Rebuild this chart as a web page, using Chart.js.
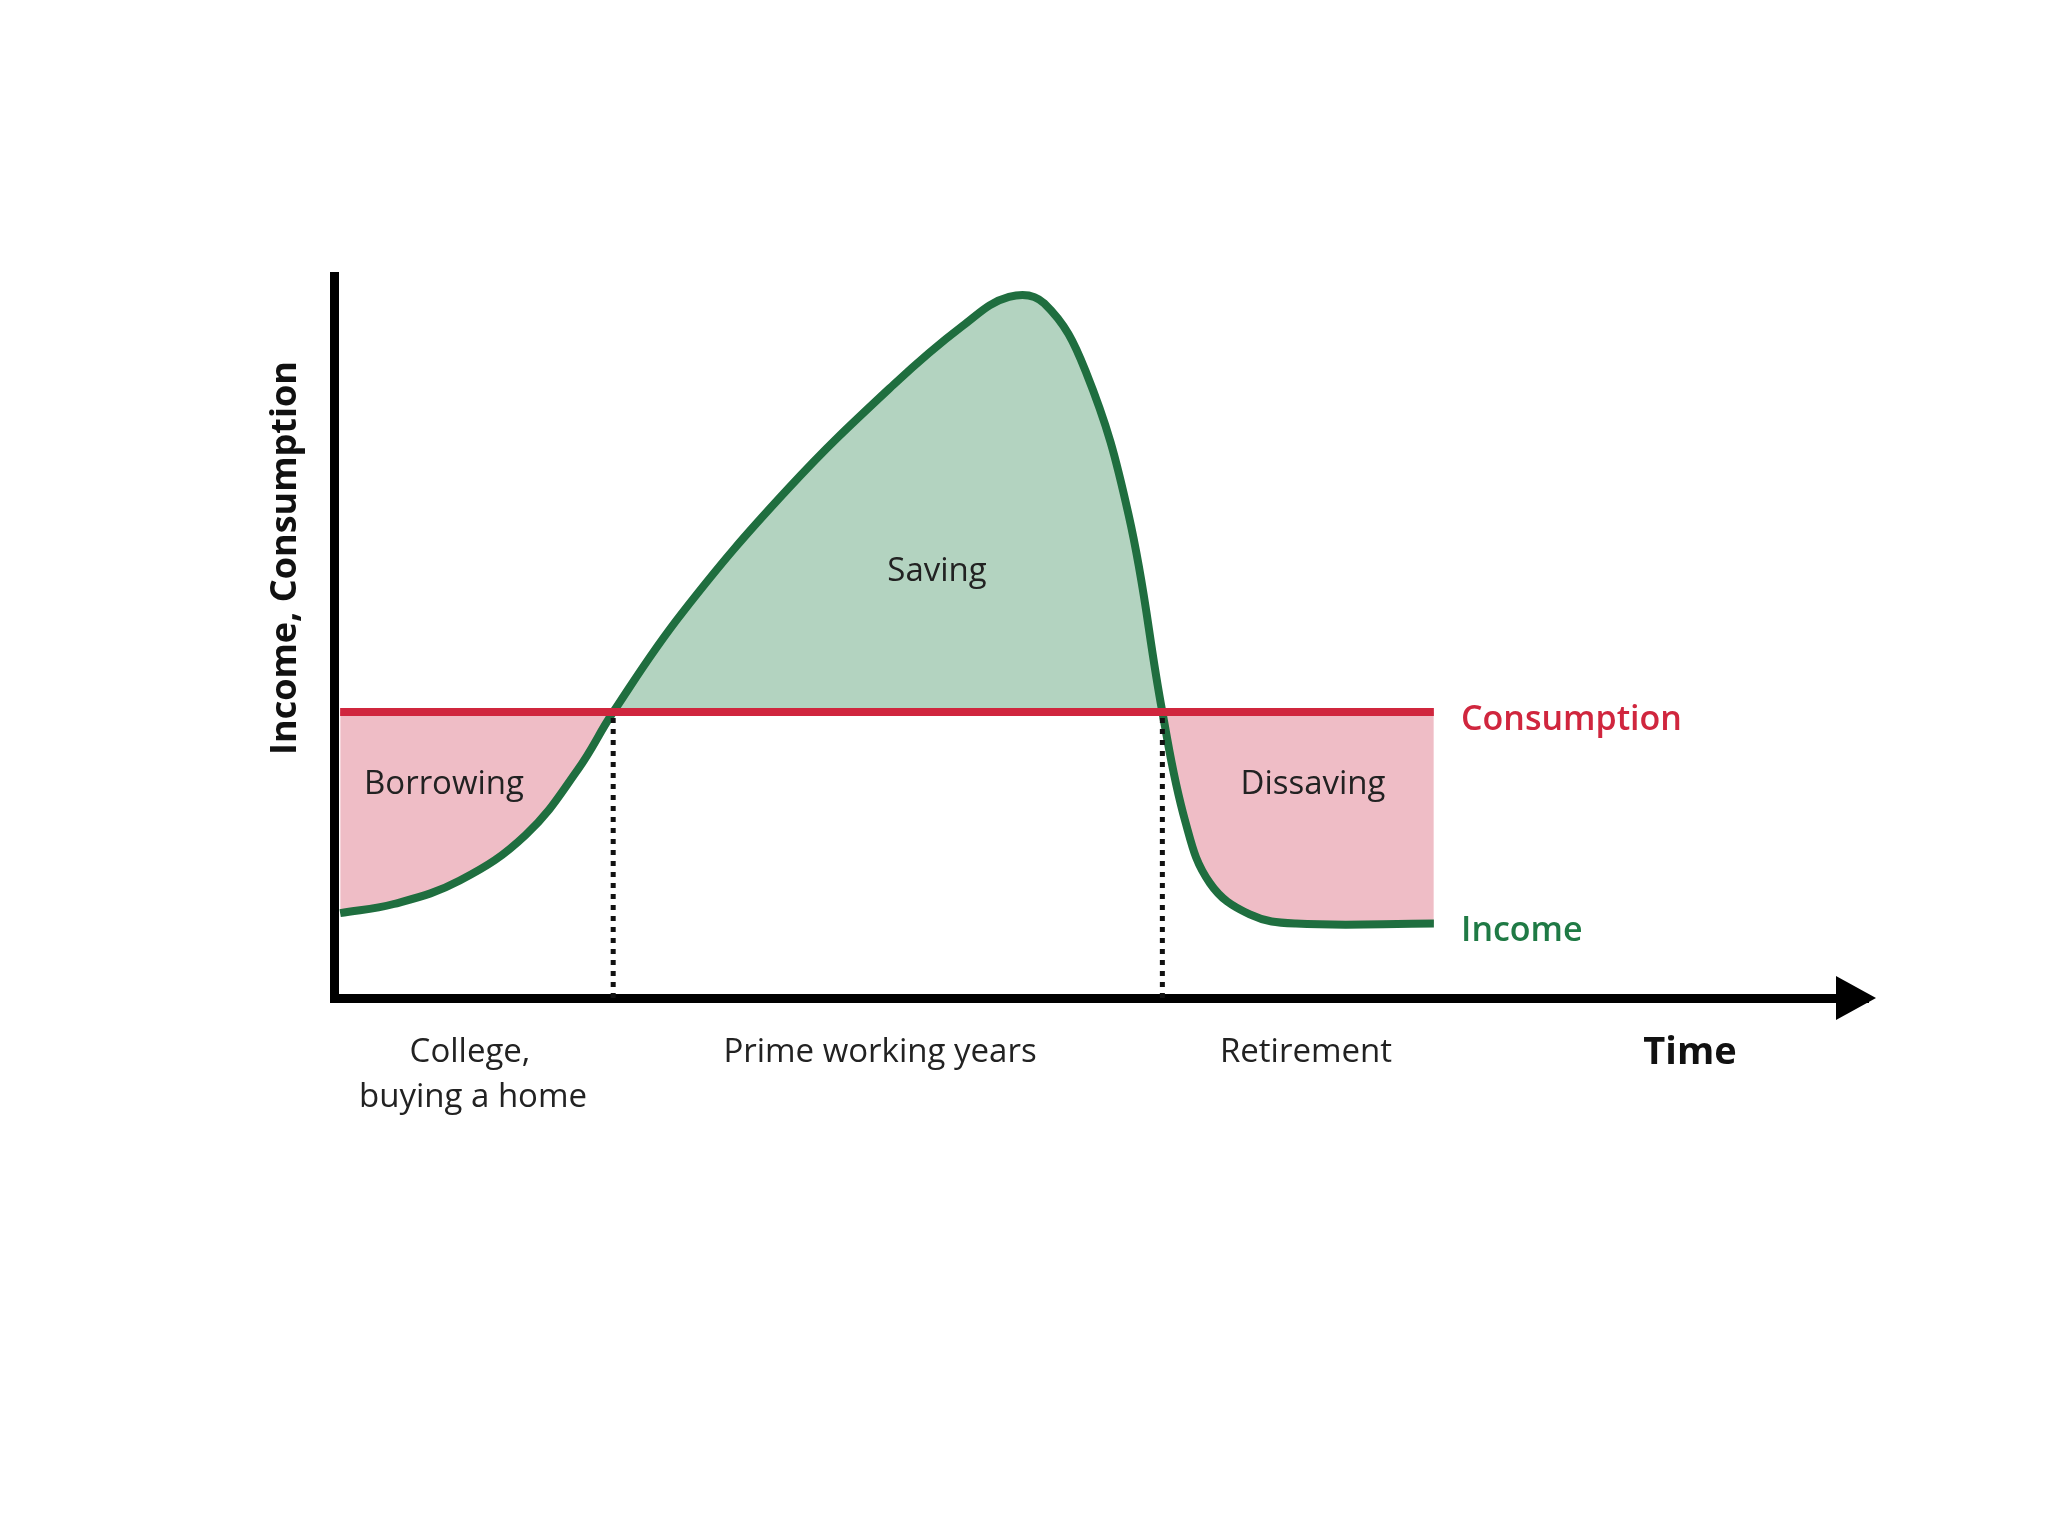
<!DOCTYPE html>
<html>
<head>
<meta charset="utf-8">
<script src="https://cdn.jsdelivr.net/npm/chart.js@4/dist/chart.umd.min.js"></script>
<style>
  html, body { margin: 0; padding: 0; background: #fff; }
  #wrap { width: 2048px; height: 1536px; }
</style>
</head>
<body>
<div id="wrap"><canvas id="lifeCycle"></canvas></div>
<script>
// time positions (0..100 along the x axis) and income level (0..553 along y)
var timePts = [0.4, 3.9, 8.2, 12.5, 15.9, 18.2, 22.7, 29.6, 36.5, 41.0, 44.0, 46.3, 49.0, 51.8, 54.0, 55.5, 57.1, 59.7, 62.7, 71.7];
var incomeVals = [65, 72, 90, 125, 175, 219, 295, 390, 470, 515, 537, 532, 480, 370, 219, 135, 88, 64, 57, 57];
var consumptionLevel = 219;
var crossings = [18.2, 54.0];

var incomeData = [];
var consData = [];
for (var i in timePts) {
    incomeData.push({x: timePts[i], y: incomeVals[i]});
    consData.push({x: timePts[i], y: consumptionLevel});
}

var dotted = crossings.map(function(c) {
    return {
        data: [{x: c, y: 0}, {x: c, y: consumptionLevel}],
        borderColor: '#111',
        borderWidth: 5,
        borderDash: [5, 6],
        pointRadius: 0,
        fill: false
    };
});

var labelsPlugin = {
    id: 'labels',
    afterDraw: function(chart) {
        var ctx = chart.ctx;
        var a = chart.chartArea;
        ctx.save();
        // arrow head at end of time axis
        ctx.fillStyle = '#000';
        ctx.beginPath();
        ctx.moveTo(a.right + 8, a.bottom);
        ctx.lineTo(a.right - 32, a.bottom - 22);
        ctx.lineTo(a.right - 32, a.bottom + 22);
        ctx.closePath();
        ctx.fill();

        function txt(s, x, y, font, color) {
            ctx.font = font;
            ctx.fillStyle = color || '#222';
            ctx.fillText(s, x, y);
        }
        ctx.textBaseline = 'middle';
        ctx.textAlign = 'center';
        var f = '33px "Open Sans", sans-serif';
        txt('Saving', 937, 572, f);
        txt('Borrowing', 444, 785, f);
        txt('Dissaving', 1313, 785, f);
        txt('College,', 470, 1053, f);
        txt('buying a home', 473, 1098, f);
        txt('Prime working years', 880, 1053, f);
        txt('Retirement', 1306, 1053, f);
        txt('Time', 1690, 1053, 'bold 38px "Open Sans", sans-serif', '#111');
        ctx.textAlign = 'left';
        txt('Consumption', 1461, 720, '600 34px "Open Sans", sans-serif', '#d0263e');
        txt('Income', 1461, 931, '600 34px "Open Sans", sans-serif', '#1f7a45');
        ctx.translate(286, 558);
        ctx.rotate(-Math.PI / 2);
        ctx.textAlign = 'center';
        txt('Income, Consumption', 0, 0, 'bold 36px "Open Sans", sans-serif', '#111');
        ctx.restore();
    }
};

new Chart(document.getElementById('lifeCycle'), {
    type: 'line',
    data: {
        datasets: [{
            label: 'Income',
            data: incomeData,
            borderColor: '#1f6e3f',
            borderWidth: 8,
            pointRadius: 0,
            tension: 0.4,
            fill: {target: 1, above: 'rgba(160,200,176,0.8)', below: 'rgba(236,178,188,0.85)'},
            order: 1
        }, {
            label: 'Consumption',
            data: consData,
            borderColor: '#d0263e',
            borderWidth: 8,
            pointRadius: 0,
            fill: false,
            order: 0
        }].concat(dotted)
    },
    plugins: [labelsPlugin],
    options: {
        responsive: true,
        maintainAspectRatio: false,
        animation: false,
        layout: {padding: {left: 326, right: 180, top: 276, bottom: 530}},
        plugins: {legend: {display: false}, tooltip: {enabled: false}},
        scales: {
            x: {
                type: 'linear', min: 0, max: 100,
                grid: {display: false},
                ticks: {display: false},
                border: {display: true, color: '#000', width: 9}
            },
            y: {
                min: 0, max: 553,
                grid: {display: false},
                ticks: {display: false},
                border: {display: true, color: '#000', width: 9}
            }
        }
    }
});
</script>
</body>
</html>
